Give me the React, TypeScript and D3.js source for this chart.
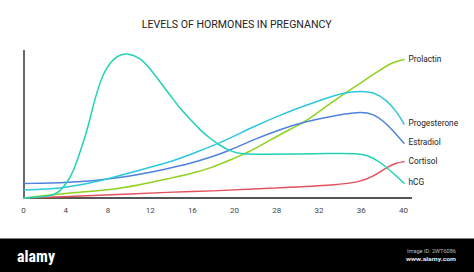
import React from "react";
import * as d3 from "d3";

const TITLE = "LEVELS OF HORMONES IN PREGNANCY";
const WEEK_LABELS = ["0", "4", "8", "12", "16", "20", "28", "32", "36", "40"];

// [position on week axis (index of tick), relative level]
const HCG: [number, number][] = [
  [0, 0], [0.62, 0.9], [0.85, 4.2], [1.01, 9.8], [1.17, 17.5], [1.33, 30.9], [1.49, 44.2],
  [1.64, 62], [1.8, 77.5], [1.96, 87.5], [2.2, 95], [2.44, 96.8], [2.75, 93.5], [2.98, 86.5],
  [3.22, 77.5], [3.46, 68.7], [3.69, 59.8], [3.93, 52.7], [4.17, 45.3], [4.41, 39.7],
  [4.64, 35], [4.88, 31.3], [5.12, 29.5], [5.47, 29], [7.48, 29.8], [7.88, 29.7],
  [8.12, 28.7], [8.43, 24.2], [8.75, 16.5], [9, 9.8],
];
const PROGESTERONE: [number, number][] = [
  [0, 5.3], [1.01, 6.5], [2.04, 13], [2.75, 18.7], [3.62, 25.3], [3.93, 29.1], [4.64, 36.5],
  [5.35, 46.5], [6.06, 55.3], [6.7, 62], [7.25, 67.5], [7.6, 70.3], [7.96, 71.3], [8.27, 70.8],
  [8.59, 65.3], [8.83, 57.5], [9, 49.3],
];
const ESTRADIOL: [number, number][] = [
  [0, 9.7], [1.01, 10], [2.27, 13.1], [3.46, 19.8], [3.93, 23], [4.41, 27], [4.88, 31.7],
  [5.35, 38], [6.06, 45.7], [6.7, 51.3], [7.25, 54.2], [7.6, 56], [7.96, 57.4], [8.27, 56.3],
  [8.59, 49.8], [9, 36.5],
];
const PROLACTIN: [number, number][] = [
  [0, 0], [1.25, 4], [1.96, 5], [2.75, 8.7], [3.46, 13.1], [3.93, 16], [4.41, 19.8],
  [4.88, 25.3], [5.35, 30.9], [5.83, 38.7], [6.3, 45.7], [6.7, 51.5], [7.09, 59.8],
  [7.64, 70.5], [7.96, 76.5], [8.43, 85.3], [8.75, 90.8], [9, 92.3],
];
const CORTISOL: [number, number][] = [
  [0, 0], [0.85, 0.7], [2.04, 2], [3.46, 4], [4.41, 4.5], [5.75, 6.5], [7.48, 8.7],
  [7.96, 10.9], [8.27, 14.2], [8.59, 20.5], [8.83, 23.5], [9, 24.2],
];

const SERIES_NAMES = ["Prolactin", "Progesterone", "Estradiol", "Cortisol", "hCG"];
const SERIES_DATA = [PROLACTIN, PROGESTERONE, ESTRADIOL, CORTISOL, HCG];
const SERIES_COLORS = ["#8ed21e", "#2ec8dd", "#4f82dc", "#e4505c", "#22d2b6"];

export default function App() {
  const W = 474, H = 272;
  const x = d3.scaleLinear().domain([0, 9]).range([24, 404]);
  const y = d3.scaleLinear().domain([0, 100]).range([198, 48]);
  const line = d3
    .line<[number, number]>()
    .x((d) => x(d[0]))
    .y((d) => y(d[1]))
    .curve(d3.curveBasis);
  const font = "Roboto, 'Liberation Sans', Arial, sans-serif";
  const drawOrder = [3, 0, 2, 1, 4];
  return (
    <svg
      width={W}
      height={H}
      style={{ position: "fixed", left: 0, top: 0, background: "#fff" }}
    >
      <rect x={0} y={0} width={W} height={H} fill="#fff" />
      <text x={236.7} y={25} textAnchor="middle" dominantBaseline="middle"
        fontFamily={font} fontSize={10.4} fill="#222" textLength={190}
        lengthAdjust="spacingAndGlyphs">{TITLE}</text>

      {/* axes */}
      <line x1={24} x2={24} y1={50} y2={198} stroke="#2a2a2a" strokeWidth={1.4} />
      <line x1={23.3} x2={412} y1={198} y2={198} stroke="#555" strokeWidth={2} />

      {WEEK_LABELS.map((lab, i) => (
        <text key={lab} x={x(i) - 0.5} y={211} textAnchor="middle" dominantBaseline="middle"
          fontFamily={font} fontSize={8} fill="#444">{lab}</text>
      ))}

      {drawOrder.map((k) => (
        <path key={SERIES_NAMES[k]} d={line(SERIES_DATA[k]) || ""} fill="none"
          stroke={SERIES_COLORS[k]} strokeWidth={1.5} strokeLinecap="round" />
      ))}

      {SERIES_NAMES.map((name, k) => {
        const last = SERIES_DATA[k][SERIES_DATA[k].length - 1];
        return (
          <text key={name} x={408.5} y={y(last[1])} dominantBaseline="middle"
            fontFamily={font} fontSize={8.3} fill="#222">{name}</text>
        );
      })}

      {/* watermark bar */}
      <rect x={0} y={238.5} width={W} height={H - 238.5} fill="#000" />
      <text x={17} y={262} fontFamily="'Liberation Sans Narrow', 'Roboto Condensed', 'Liberation Sans', Arial, sans-serif"
        fontWeight="bold" fontSize={17} fill="#fff" textLength={38} lengthAdjust="spacingAndGlyphs">alamy</text>
      <text x={407} y={252.5} fontFamily={font} fontSize={4.6} fill="#bbb"
        textLength={49} lengthAdjust="spacingAndGlyphs">Image ID: 2WT6086</text>
      <text x={406} y={261} fontFamily={font} fontWeight="bold" fontSize={6} fill="#e8e8e8"
        textLength={50} lengthAdjust="spacingAndGlyphs">www.alamy.com</text>
    </svg>
  );
}
